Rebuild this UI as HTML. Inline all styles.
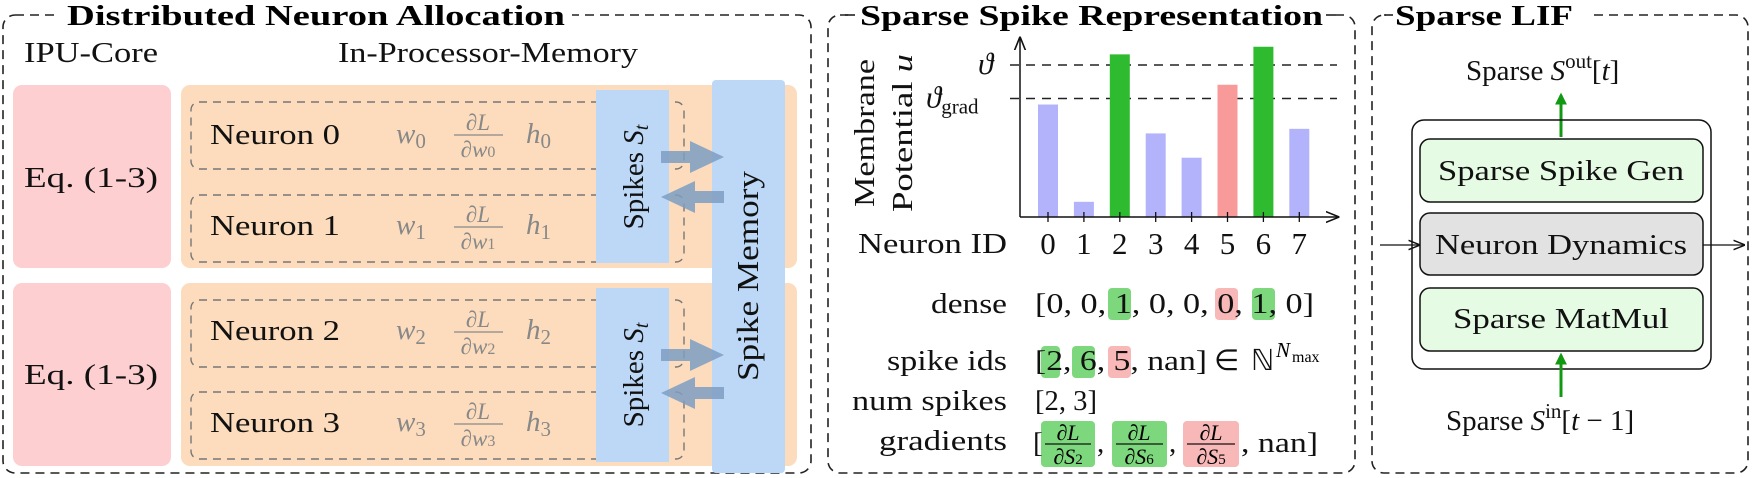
<!DOCTYPE html>
<html><head><meta charset="utf-8">
<style>
html,body{margin:0;padding:0;background:#fff;}
svg{display:block;font-family:"Liberation Serif",serif;}
.t{font-size:29px;fill:#111;}
.g{fill:#888;font-style:italic;}
.dash{fill:none;stroke:#222;stroke-width:1.6;stroke-dasharray:9 6;}
.gdash{fill:none;stroke:#777;stroke-width:1.4;stroke-dasharray:8 6;}
</style></head>
<body>
<svg id="root" width="1752" height="478" viewBox="0 0 1752 478" xmlns="http://www.w3.org/2000/svg">
<defs>
<marker id="ah" viewBox="0 0 10 10" refX="9" refY="5" markerWidth="9" markerHeight="9" orient="auto"><path d="M0,1 L10,5 L0,9" fill="none" stroke="#111" stroke-width="1.2"/></marker>
<marker id="gh" viewBox="0 0 10 10" refX="8" refY="5" markerWidth="4" markerHeight="4" orient="auto"><path d="M0,0 L10,5 L0,10 Z" fill="#119911"/></marker>
</defs>

<!-- Panel 1 -->
<g>
<rect class="dash" x="3" y="15" width="808" height="458" rx="12"/>
<rect x="60" y="2" width="512" height="26" fill="#fff"/>
<text x="67" y="25" font-size="29" font-weight="bold" textLength="498" lengthAdjust="spacingAndGlyphs">Distributed Neuron Allocation</text>
<text class="t" x="24" y="62" textLength="134" lengthAdjust="spacingAndGlyphs">IPU-Core</text>
<text class="t" x="338" y="62" textLength="300" lengthAdjust="spacingAndGlyphs">In-Processor-Memory</text>

<rect x="13" y="85" width="158" height="183" rx="9" fill="#fdcfd0"/>
<rect x="13" y="283" width="158" height="183" rx="9" fill="#fdcfd0"/>
<text class="t" x="24" y="187" font-size="31" textLength="134" lengthAdjust="spacingAndGlyphs">Eq. (1-3)</text>
<text class="t" x="24" y="384" font-size="31" textLength="134" lengthAdjust="spacingAndGlyphs">Eq. (1-3)</text>

<rect x="181" y="85" width="616" height="183" rx="9" fill="#fcdcbc"/>
<rect x="181" y="283" width="616" height="183" rx="9" fill="#fcdcbc"/>

<rect class="gdash" x="191" y="102" width="493" height="67" rx="8"/>
<rect class="gdash" x="191" y="195" width="493" height="67" rx="8"/>
<rect class="gdash" x="191" y="300" width="493" height="67" rx="8"/>
<rect class="gdash" x="191" y="392" width="493" height="67" rx="8"/>

<g>
<text class="t" x="210" y="144" font-size="31" textLength="130" lengthAdjust="spacingAndGlyphs">Neuron 0</text>
<text class="t g" x="396" y="143" font-size="31">w<tspan font-size="21" dy="5" font-style="normal">0</tspan></text>
<text class="g" x="478" y="130" font-size="23" text-anchor="middle">∂L</text><line x1="454" y1="135" x2="503" y2="135" stroke="#888" stroke-width="1.3"/><text class="g" x="478" y="157" font-size="23" text-anchor="middle">∂w<tspan font-size="16" font-style="normal">0</tspan></text>
<text class="t g" x="526" y="143" font-size="31">h<tspan font-size="21" dy="5" font-style="normal">0</tspan></text>
</g>
<g>
<text class="t" x="210" y="235" font-size="31" textLength="130" lengthAdjust="spacingAndGlyphs">Neuron 1</text>
<text class="t g" x="396" y="234" font-size="31">w<tspan font-size="21" dy="5" font-style="normal">1</tspan></text>
<text class="g" x="478" y="222" font-size="23" text-anchor="middle">∂L</text><line x1="454" y1="227" x2="503" y2="227" stroke="#888" stroke-width="1.3"/><text class="g" x="478" y="249" font-size="23" text-anchor="middle">∂w<tspan font-size="16" font-style="normal">1</tspan></text>
<text class="t g" x="526" y="234" font-size="31">h<tspan font-size="21" dy="5" font-style="normal">1</tspan></text>
</g>
<g>
<text class="t" x="210" y="340" font-size="31" textLength="130" lengthAdjust="spacingAndGlyphs">Neuron 2</text>
<text class="t g" x="396" y="339" font-size="31">w<tspan font-size="21" dy="5" font-style="normal">2</tspan></text>
<text class="g" x="478" y="327" font-size="23" text-anchor="middle">∂L</text><line x1="454" y1="332" x2="503" y2="332" stroke="#888" stroke-width="1.3"/><text class="g" x="478" y="354" font-size="23" text-anchor="middle">∂w<tspan font-size="16" font-style="normal">2</tspan></text>
<text class="t g" x="526" y="339" font-size="31">h<tspan font-size="21" dy="5" font-style="normal">2</tspan></text>
</g>
<g>
<text class="t" x="210" y="432" font-size="31" textLength="130" lengthAdjust="spacingAndGlyphs">Neuron 3</text>
<text class="t g" x="396" y="431" font-size="31">w<tspan font-size="21" dy="5" font-style="normal">3</tspan></text>
<text class="g" x="478" y="419" font-size="23" text-anchor="middle">∂L</text><line x1="454" y1="424" x2="503" y2="424" stroke="#888" stroke-width="1.3"/><text class="g" x="478" y="446" font-size="23" text-anchor="middle">∂w<tspan font-size="16" font-style="normal">3</tspan></text>
<text class="t g" x="526" y="431" font-size="31">h<tspan font-size="21" dy="5" font-style="normal">3</tspan></text>
</g>

<rect x="596" y="90" width="73" height="173" fill="#bcd8f6"/>
<rect x="596" y="288" width="73" height="174" fill="#bcd8f6"/>
<text class="t" transform="translate(643,177) rotate(-90)" text-anchor="middle" font-size="31">Spikes <tspan font-style="italic">S</tspan><tspan font-size="20" font-style="italic" dy="5">t</tspan></text>
<text class="t" transform="translate(643,375) rotate(-90)" text-anchor="middle" font-size="31">Spikes <tspan font-style="italic">S</tspan><tspan font-size="20" font-style="italic" dy="5">t</tspan></text>

<rect x="712" y="80" width="73" height="393" rx="4" fill="#bcd8f6"/>
<text transform="translate(758,276) rotate(-90)" text-anchor="middle" font-size="31" fill="#111" textLength="210" lengthAdjust="spacingAndGlyphs">Spike Memory</text>

<g fill="#7e9ec2" opacity="0.85">
<path d="M661,151 L690,151 L690,141 L724,157 L690,173 L690,163 L661,163 Z"/>
<path d="M724,191 L695,191 L695,181 L661,197 L695,213 L695,203 L724,203 Z"/>
<path d="M661,349 L690,349 L690,339 L724,355 L690,371 L690,361 L661,361 Z"/>
<path d="M724,387 L695,387 L695,377 L661,393 L695,409 L695,399 L724,399 Z"/>
</g>
</g>

<!-- Panel 2 -->
<g>
<rect class="dash" x="828" y="15" width="527" height="458" rx="12"/>
<rect x="848" y="2" width="488" height="26" fill="#fff"/>
<line x1="845" y1="15" x2="855" y2="15" stroke="#222" stroke-width="1.6"/>
<text x="860" y="25" font-size="29" font-weight="bold" textLength="463" lengthAdjust="spacingAndGlyphs">Sparse Spike Representation</text>
<line x1="1326" y1="15" x2="1336" y2="15" stroke="#222" stroke-width="1.6"/>

<g id="chart"></g>

<text class="t" transform="translate(874,133) rotate(-90)" text-anchor="middle" font-size="31" textLength="148" lengthAdjust="spacingAndGlyphs">Membrane</text>
<text class="t" transform="translate(912,133) rotate(-90)" text-anchor="middle" font-size="31" textLength="158" lengthAdjust="spacingAndGlyphs">Potential <tspan font-style="italic">u</tspan></text>
<text class="t" x="1007" y="253" text-anchor="end" font-size="31" textLength="149" lengthAdjust="spacingAndGlyphs">Neuron ID</text>

<g>
<text class="t" x="1007" y="313" text-anchor="end" font-size="31" textLength="76" lengthAdjust="spacingAndGlyphs">dense</text>
<rect x="1108" y="288" width="23" height="32" rx="4" fill="#7dd87d"/>
<rect x="1215" y="288" width="23" height="32" rx="4" fill="#f8b8b8"/>
<rect x="1252" y="288" width="23" height="32" rx="4" fill="#7dd87d"/>
<text class="t" x="1035" y="313" font-size="31" textLength="279" lengthAdjust="spacingAndGlyphs">[0, 0, 1, 0, 0, 0, 1, 0]</text>
</g>
<g>
<text class="t" x="1007" y="370" text-anchor="end" font-size="31" textLength="120" lengthAdjust="spacingAndGlyphs">spike ids</text>
<rect x="1041" y="346" width="19" height="32" rx="4" fill="#7dd87d"/>
<rect x="1072" y="346" width="23" height="32" rx="4" fill="#7dd87d"/>
<rect x="1108" y="346" width="23" height="32" rx="4" fill="#f8b8b8"/>
<text class="t" x="1035" y="370" font-size="31" textLength="172" lengthAdjust="spacingAndGlyphs">[2, 6, 5, nan]</text>
<text class="t" x="1214" y="370" font-size="31">∈</text>
<text class="t" x="1251" y="370" font-size="31">ℕ</text>
<text x="1276" y="357" font-size="21" font-style="italic">N</text><text x="1292" y="362" font-size="16">max</text>
</g>
<g>
<text class="t" x="1007" y="410" text-anchor="end" font-size="31" textLength="155" lengthAdjust="spacingAndGlyphs">num spikes</text>
<text class="t" x="1035" y="410" font-size="31" textLength="62" lengthAdjust="spacingAndGlyphs">[2, 3]</text>
</g>
<g>
<text class="t" x="1007" y="450" text-anchor="end" font-size="31" textLength="128" lengthAdjust="spacingAndGlyphs">gradients</text>
<rect x="1041" y="421" width="54" height="46" rx="4" fill="#7dd87d"/>
<rect x="1112" y="421" width="55" height="46" rx="4" fill="#7dd87d"/>
<rect x="1183" y="421" width="56" height="46" rx="4" fill="#f8b8b8"/>
<text class="t" x="1033" y="452" font-size="31">[</text>
<text x="1068" y="440" font-size="22" font-style="italic" text-anchor="middle">∂L</text><line x1="1045" y1="444" x2="1091" y2="444" stroke="#111" stroke-width="1.2"/><text x="1068" y="464" font-size="22" font-style="italic" text-anchor="middle">∂S<tspan font-size="15" font-style="normal">2</tspan></text>
<text class="t" x="1097" y="452">,</text>
<text x="1139" y="440" font-size="22" font-style="italic" text-anchor="middle">∂L</text><line x1="1116" y1="444" x2="1163" y2="444" stroke="#111" stroke-width="1.2"/><text x="1139" y="464" font-size="22" font-style="italic" text-anchor="middle">∂S<tspan font-size="15" font-style="normal">6</tspan></text>
<text class="t" x="1169" y="452">,</text>
<text x="1211" y="440" font-size="22" font-style="italic" text-anchor="middle">∂L</text><line x1="1187" y1="444" x2="1235" y2="444" stroke="#111" stroke-width="1.2"/><text x="1211" y="464" font-size="22" font-style="italic" text-anchor="middle">∂S<tspan font-size="15" font-style="normal">5</tspan></text>
<text class="t" x="1241" y="452" font-size="31" textLength="77" lengthAdjust="spacingAndGlyphs">, nan]</text>
</g>
</g>

<!-- Panel 3 -->
<g>
<rect class="dash" x="1372" y="15" width="376" height="458" rx="12"/>
<rect x="1386" y="2" width="205" height="26" fill="#fff"/>
<line x1="1385" y1="15" x2="1393" y2="15" stroke="#222" stroke-width="1.6"/>
<text x="1395" y="25" font-size="29" font-weight="bold" textLength="178" lengthAdjust="spacingAndGlyphs">Sparse LIF</text>
<text class="t" x="1466" y="80" font-size="31">Sparse <tspan font-style="italic">S</tspan><tspan font-size="21" dy="-12">out</tspan><tspan dy="12">[</tspan><tspan font-style="italic">t</tspan>]</text>
<line x1="1561" y1="137" x2="1561" y2="95" stroke="#119911" stroke-width="3" marker-end="url(#gh)"/>
<rect x="1412" y="120" width="299" height="249" rx="12" fill="none" stroke="#111" stroke-width="1.5"/>
<rect x="1420" y="139" width="283" height="63" rx="10" fill="#e6fbe4" stroke="#111" stroke-width="1.5"/>
<text class="t" x="1561" y="180" text-anchor="middle" font-size="31" textLength="246" lengthAdjust="spacingAndGlyphs">Sparse Spike Gen</text>
<rect x="1420" y="213" width="283" height="62" rx="10" fill="#e2e2e2" stroke="#111" stroke-width="1.5"/>
<text class="t" x="1561" y="254" text-anchor="middle" font-size="31" textLength="252" lengthAdjust="spacingAndGlyphs">Neuron Dynamics</text>
<rect x="1420" y="288" width="283" height="63" rx="10" fill="#e6fbe4" stroke="#111" stroke-width="1.5"/>
<text class="t" x="1561" y="328" text-anchor="middle" font-size="31" textLength="216" lengthAdjust="spacingAndGlyphs">Sparse MatMul</text>
<line x1="1561" y1="397" x2="1561" y2="355" stroke="#119911" stroke-width="3" marker-end="url(#gh)"/>
<text class="t" x="1446" y="430" font-size="31">Sparse <tspan font-style="italic">S</tspan><tspan font-size="21" dy="-12">in</tspan><tspan dy="12">[</tspan><tspan font-style="italic">t</tspan> − 1]</text>
<line x1="1380" y1="245" x2="1419" y2="245" stroke="#111" stroke-width="1.3" marker-end="url(#ah)"/>
<line x1="1703" y1="245" x2="1744" y2="245" stroke="#111" stroke-width="1.3" marker-end="url(#ah)"/>
</g>
</svg>

<script>
const neuronIds = [0, 1, 2, 3, 4, 5, 6, 7];
const potentials = [0.74, 0.10, 1.07, 0.55, 0.39, 0.87, 1.12, 0.58];
const barStatus = ["none", "none", "spike", "none", "none", "grad", "spike", "none"];
const thresholdValues = [1.0, 0.78];
const thresholdLabels = ["ϑ", "ϑgrad"];

const NS = "http://www.w3.org/2000/svg";
const chart = document.getElementById("chart");
const x0 = 1048, dx = 35.9, yBase = 217, yUnit = 152;
function xScale(i) { return x0 + i * dx; }
function yScale(v) { return yBase - v * yUnit; }
function mk(tag, attrs) {
  const e = document.createElementNS(NS, tag);
  for (const k in attrs) e.setAttribute(k, attrs[k]);
  return e;
}
const colors = { none: "#b3b3fb", spike: "#2fbb2f", grad: "#f99a9a" };

thresholdValues.forEach((v, i) => {
  const ln = mk("line", { x1: 1010, x2: 1337, y1: yScale(v), y2: yScale(v), stroke: "#222", "stroke-width": 1.5, "stroke-dasharray": "9 7" });
  
  
  chart.appendChild(ln);
  const t = mk("text", { x: i === 0 ? 978 : 926, y: yScale(v) + 9, "font-size": 31, "font-style": "italic", fill: "#111" });
  t.textContent = thresholdLabels[i].charAt(0);
  if (thresholdLabels[i].length > 1) {
    const s = mk("tspan", { "font-size": 21, "font-style": "normal", dy: 6 });
    s.textContent = thresholdLabels[i].slice(1);
    t.appendChild(s);
  }
  
  
  chart.appendChild(t);
});

neuronIds.forEach((id, i) => {
  const v = potentials[i];
  const r = mk("rect", { x: xScale(i) - 10, y: yScale(v), width: 20, height: yBase - yScale(v), fill: colors[barStatus[i]] });
  
  
  chart.appendChild(r);
});

const yAx = mk("line", { x1: 1020, y1: yBase, x2: 1020, y2: 38, stroke: "#111", "stroke-width": 1.5, "marker-end": "url(#ah)" });


chart.appendChild(yAx);
const xAx = mk("line", { x1: 1020, y1: yBase, x2: 1338, y2: yBase, stroke: "#111", "stroke-width": 1.5, "marker-end": "url(#ah)" });


chart.appendChild(xAx);

neuronIds.forEach((id, i) => {
  const tk = mk("line", { x1: xScale(i), x2: xScale(i), y1: yBase - 5, y2: yBase + 5, stroke: "#111", "stroke-width": 1.3 });
  
  
  chart.appendChild(tk);
  const lb = mk("text", { x: xScale(i), y: 254, "text-anchor": "middle", "font-size": 31, fill: "#111" });
  lb.textContent = String(id);
  
  
  chart.appendChild(lb);
});
</script>
</body></html>
